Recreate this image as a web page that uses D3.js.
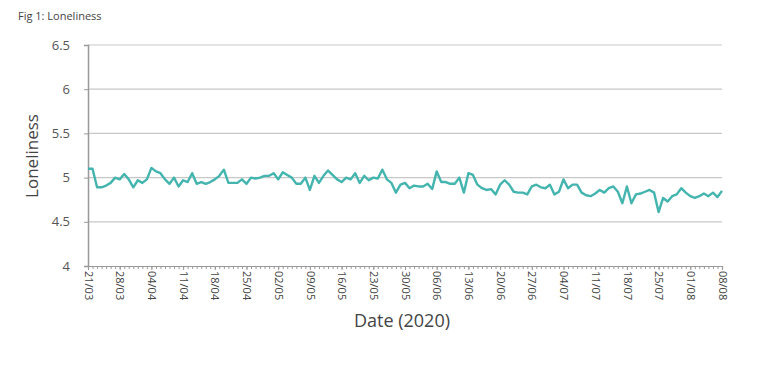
<!DOCTYPE html>
<html><head><meta charset="utf-8">
<script src="https://cdn.jsdelivr.net/npm/d3@7"></script>
<style>body{margin:0;background:#fff}svg{display:block}text{font-family:"Open Sans",sans-serif}</style>
</head><body><svg id="c" width="768" height="374"></svg>
<script>
const startDate = "2020-03-21";
const endDate = "2020-08-08";
const loneliness = [5.10,5.10,4.89,4.89,4.91,4.94,5.00,4.98,5.04,4.98,4.89,4.97,4.94,4.98,5.11,5.07,5.05,4.98,4.93,5.00,
4.90,4.97,4.95,5.05,4.93,4.95,4.93,4.95,4.98,5.02,5.09,4.94,4.94,4.94,4.98,4.93,5.00,4.99,5.00,5.02,
5.02,5.05,4.98,5.06,5.03,5.00,4.93,4.93,5.00,4.86,5.02,4.94,5.02,5.08,5.03,4.98,4.95,5.00,4.98,5.05,
4.94,5.02,4.97,5.00,4.99,5.09,4.98,4.94,4.83,4.92,4.94,4.88,4.91,4.90,4.90,4.93,4.87,5.07,4.95,4.95,
4.93,4.93,5.00,4.83,5.05,5.03,4.92,4.88,4.86,4.87,4.81,4.92,4.97,4.92,4.84,4.83,4.83,4.81,4.90,4.92,
4.89,4.88,4.92,4.81,4.84,4.98,4.88,4.92,4.92,4.83,4.80,4.79,4.82,4.86,4.83,4.88,4.90,4.84,4.71,4.90,
4.71,4.81,4.82,4.84,4.86,4.83,4.61,4.77,4.73,4.79,4.81,4.88,4.83,4.79,4.77,4.79,4.82,4.79,4.83,4.78,4.85];
const yTicks = [4,4.5,5,5.5,6,6.5];
const xTickLabels = ["21/03","28/03","04/04","11/04","18/04","25/04","02/05","09/05","16/05","23/05","30/05",
"06/06","13/06","20/06","27/06","04/07","11/07","18/07","25/07","01/08","08/08"];

const parse = d3.utcParse("%Y-%m-%d");
const t0 = parse(startDate), t1 = parse(endDate);
const dates = d3.utcDay.range(t0, d3.utcDay.offset(t1, 1));
const data = dates.map((d, i) => ({date: d, value: loneliness[i]}));

const svg = d3.select("#c");
const L = 88, R = 722, T = 45, B = 266;
const x = d3.scaleUtc().domain([t0, t1]).range([L, R]);
const y = d3.scaleLinear().domain([4, 6.5]).range([B, T]);

svg.append("text").attr("x", 18).attr("y", 20).attr("font-size", 11).attr("fill", "#444").text("Fig 1: Loneliness");

// gridlines
svg.append("g").selectAll("line").data(yTicks.filter(v => v > 4)).join("line")
  .attr("x1", L).attr("x2", R).attr("y1", d => y(d)).attr("y2", d => y(d))
  .attr("stroke", "#c8c8c8").attr("stroke-width", 1.2);

// y axis
const yAxis = svg.append("g").attr("transform", `translate(${L},0)`)
  .call(d3.axisLeft(y).tickValues(yTicks).tickSize(4).tickPadding(14).tickFormat(d3.format("")));
yAxis.select(".domain").attr("stroke", "#999").attr("stroke-width", 1.5);
yAxis.selectAll(".tick line").attr("stroke", "#999");
yAxis.selectAll("text").attr("font-size", 13).attr("fill", "#555").attr("font-family", "'Open Sans', sans-serif");

// x axis minor (daily) ticks
const xMinor = svg.append("g").attr("transform", `translate(0,${B})`)
  .call(d3.axisBottom(x).tickValues(dates).tickSize(3).tickFormat(""));
xMinor.select(".domain").attr("stroke", "#999").attr("stroke-width", 1.2);
xMinor.selectAll(".tick line").attr("stroke", "#999");

// x axis labels (weekly)
const weekly = dates.filter((d, i) => i % 7 === 0);
const xAxis = svg.append("g").attr("transform", `translate(0,${B})`)
  .call(d3.axisBottom(x).tickValues(weekly).tickSize(4).tickFormat((d, i) => xTickLabels[i]));
xAxis.select(".domain").remove();
xAxis.selectAll(".tick line").attr("stroke", "#999");
xAxis.selectAll("text")
  .attr("font-size", 11).attr("fill", "#444").attr("font-family", "'Open Sans', sans-serif")
  .attr("transform", "rotate(90)")
  .attr("x", 5).attr("y", 0).attr("dy", "0.35em")
  .style("text-anchor", "start");

// line
svg.append("path").datum(data)
  .attr("fill", "none").attr("stroke", "#43b4ae").attr("stroke-width", 2.4)
  .attr("stroke-linejoin", "round")
  .attr("d", d3.line().x(d => x(d.date)).y(d => y(d.value)));

// axis titles
svg.append("text").attr("transform", "translate(38,156) rotate(-90)")
  .attr("text-anchor", "middle").attr("font-size", 17).attr("fill", "#444").text("Loneliness");
svg.append("text").attr("x", 402).attr("y", 327)
  .attr("text-anchor", "middle").attr("font-size", 18).attr("fill", "#444").text("Date (2020)");
</script></body></html>
